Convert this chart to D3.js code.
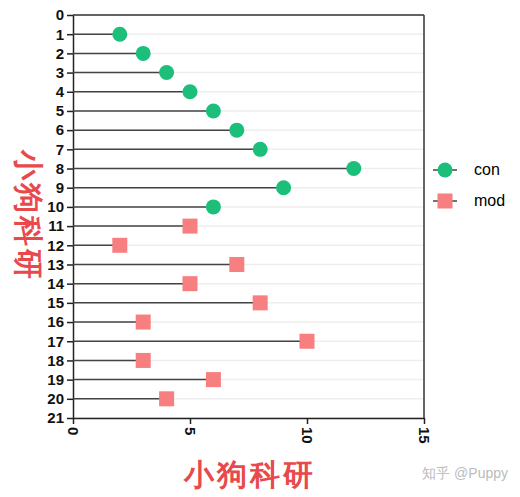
<!DOCTYPE html><html><head><meta charset="utf-8"><script src="https://cdn.jsdelivr.net/npm/d3@7"></script>
<style>body{margin:0;background:#fff}text{font-family:Arial,"Liberation Sans",sans-serif}</style></head><body><svg id="c" width="520" height="497"></svg>
<script>
const rows=[1,2,3,4,5,6,7,8,9,10,11,12,13,14,15,16,17,18,19,20];
const values=[2,3,4,5,6,7,8,12,9,6,5,2,7,5,8,3,10,3,6,4];
const groups=["con","con","con","con","con","con","con","con","con","con","mod","mod","mod","mod","mod","mod","mod","mod","mod","mod"];
const yTicks=d3.range(0,22);
const xTicks=[0,5,10,15];
const colors={con:"#1bbf7a",mod:"#f87f80"};
const svg=d3.select("#c");
const L=73,R=424,T=15,B=418;
const x=d3.scaleLinear().domain([0,15]).range([L,R]);
const y=d3.scaleLinear().domain([0,21]).range([T,B]);
svg.append("g").selectAll("line").data(yTicks).join("line").attr("x1",L).attr("x2",R).attr("y1",d=>y(d)).attr("y2",d=>y(d)).attr("stroke","#eee").attr("stroke-width",1.5);
svg.append("line").attr("x1",L).attr("x2",R).attr("y1",T).attr("y2",T).attr("stroke","#333").attr("stroke-width",1.5);
svg.append("line").attr("x1",R).attr("x2",R).attr("y1",T).attr("y2",B).attr("stroke","#333").attr("stroke-width",1.5);
const ya=svg.append("g").attr("transform",`translate(${L},0)`).call(d3.axisLeft(y).tickValues(yTicks).tickFormat(d3.format("d")).tickSize(6).tickSizeOuter(0));
ya.selectAll("text").attr("font-size",15).attr("font-weight","bold").attr("fill","#111");
ya.selectAll("line,path").attr("stroke","#222").attr("stroke-width",1.5);
const xa=svg.append("g").attr("transform",`translate(0,${B})`).call(d3.axisBottom(x).tickValues(xTicks).tickSize(6).tickSizeOuter(0));
xa.selectAll("line,path").attr("stroke","#222").attr("stroke-width",1.5);
xa.selectAll("text").attr("font-size",15).attr("font-weight","bold").attr("fill","#111").attr("transform","rotate(90)").attr("text-anchor","start").attr("x",9).attr("y",0).attr("dy","0.35em");
const data=rows.map((r,i)=>({r,v:values[i],g:groups[i]}));
svg.append("g").selectAll("line").data(data).join("line").attr("x1",x(0)).attr("x2",d=>x(d.v)).attr("y1",d=>y(d.r)).attr("y2",d=>y(d.r)).attr("stroke","#444").attr("stroke-width",1.5);
svg.append("g").selectAll("circle").data(data.filter(d=>d.g=="con")).join("circle").attr("cx",d=>x(d.v)).attr("cy",d=>y(d.r)).attr("r",7.5).attr("fill",colors.con);
svg.append("g").selectAll("rect").data(data.filter(d=>d.g=="mod")).join("rect").attr("x",d=>x(d.v)-7.5).attr("y",d=>y(d.r)-7.5).attr("width",15).attr("height",15).attr("fill",colors.mod);
svg.append("text").attr("x",250).attr("y",485).attr("text-anchor","middle").attr("font-size",30).attr("font-weight","bold").attr("letter-spacing",3).attr("fill","#e8494d").attr("font-family","Noto Sans CJK SC").text("小狗科研");
svg.append("text").attr("transform","translate(18,216) rotate(90)").attr("text-anchor","middle").attr("font-size",30).attr("font-weight","bold").attr("letter-spacing",3).attr("fill","#e8494d").attr("font-family","Noto Sans CJK SC").text("小狗科研");
const lg=svg.append("g");
lg.append("line").attr("x1",433).attr("x2",457).attr("y1",170).attr("y2",170).attr("stroke","#444").attr("stroke-width",1.5);
lg.append("circle").attr("cx",445).attr("cy",170).attr("r",7.5).attr("fill",colors.con);
lg.append("text").attr("x",474).attr("y",175).attr("font-size",16).text("con");
lg.append("line").attr("x1",433).attr("x2",457).attr("y1",201).attr("y2",201).attr("stroke","#444").attr("stroke-width",1.5);
lg.append("rect").attr("x",437.5).attr("y",193.5).attr("width",15).attr("height",15).attr("fill",colors.mod);
lg.append("text").attr("x",474).attr("y",206).attr("font-size",16).text("mod");
svg.append("text").attr("x",508).attr("y",478).attr("text-anchor","end").attr("font-size",14).attr("fill","#bbb").attr("font-family","Noto Sans CJK SC").text("知乎 @Puppy");
</script></body></html>
